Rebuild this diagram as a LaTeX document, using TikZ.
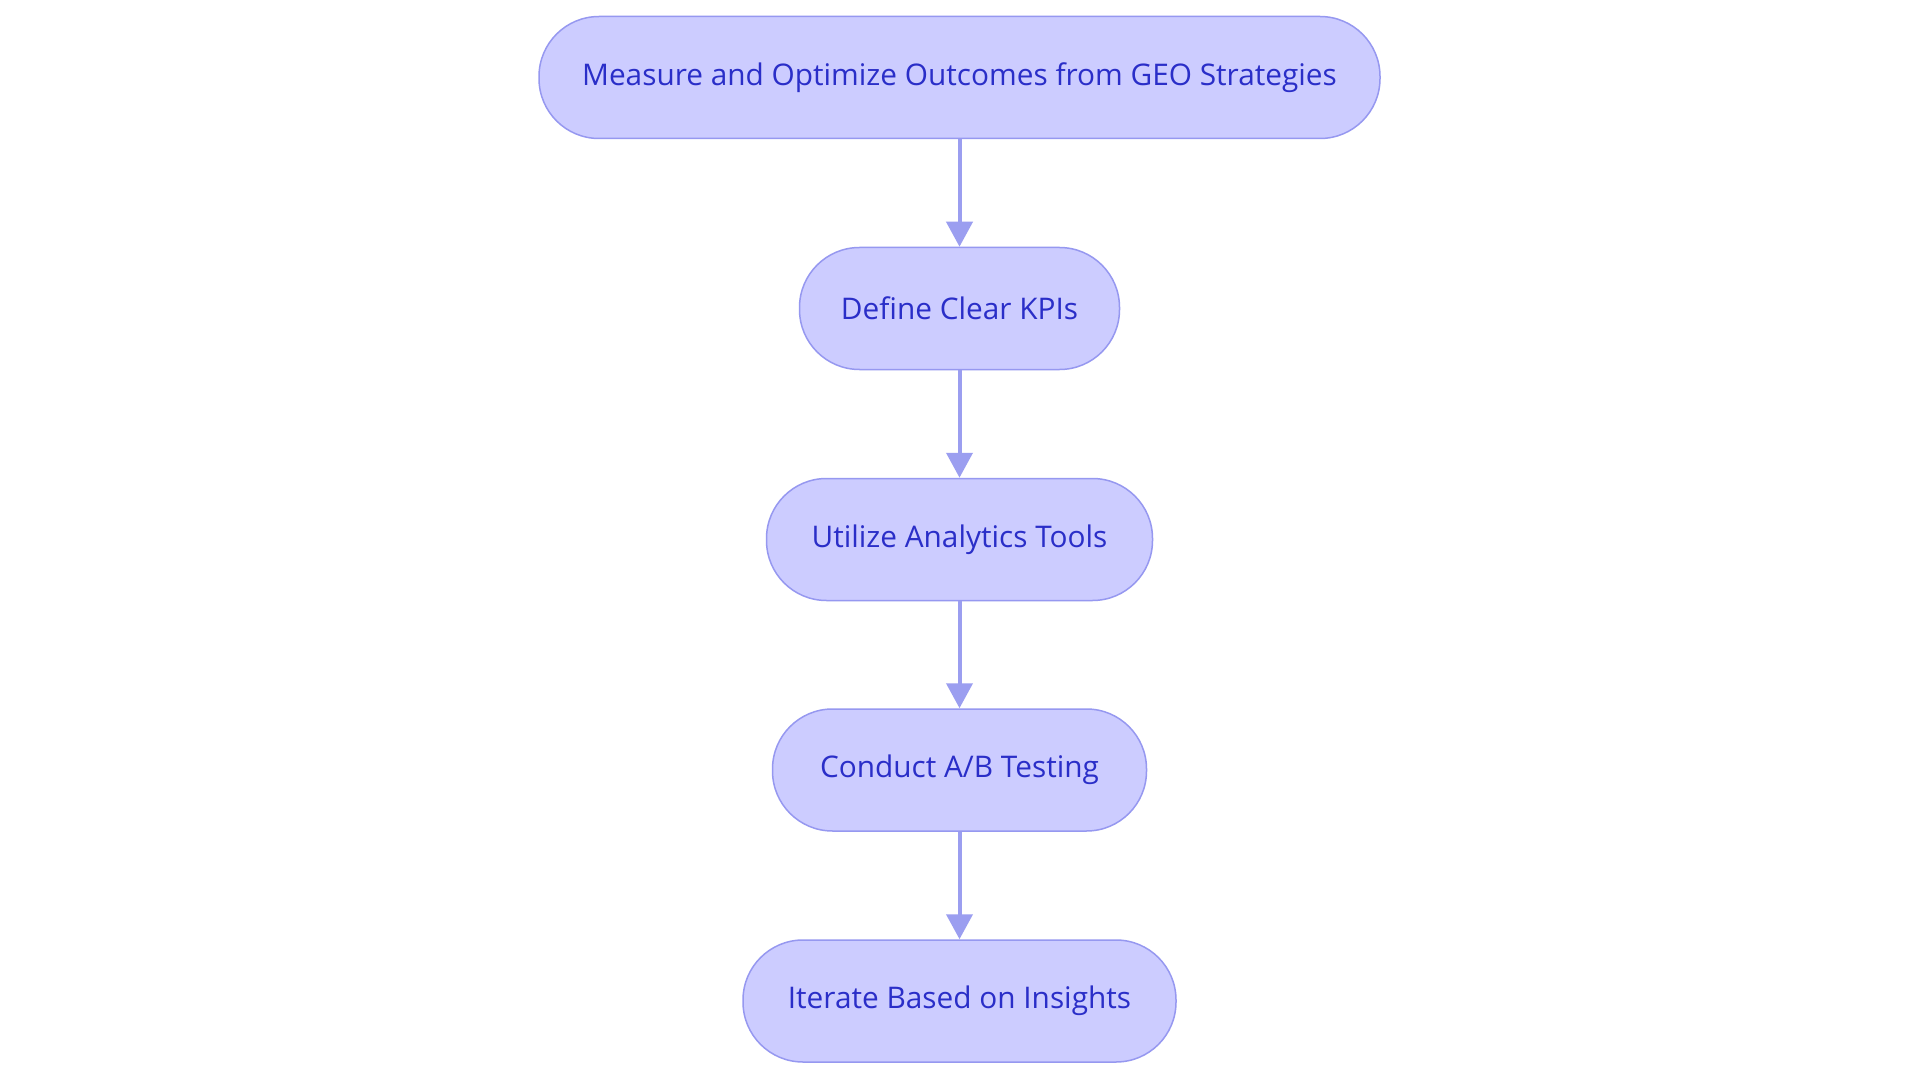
\documentclass[tikz,border=0pt]{standalone}
\usepackage{fontspec}
\setmainfont{Open Sans}
\usetikzlibrary{arrows.meta}
\definecolor{nodefill}{RGB}{204,204,255}
\definecolor{nodedraw}{RGB}{150,152,240}
\definecolor{nodetext}{RGB}{42,46,200}
\definecolor{edgecol}{RGB}{155,158,240}
\begin{document}
\begin{tikzpicture}[x=1pt,y=-1pt,
  stepbox/.style={draw=nodedraw,fill=nodefill,line width=1.5pt,rounded corners=60pt,
    minimum height=122pt,inner sep=0pt,text=nodetext,font=\fontsize{29.8}{36}\selectfont},
  flow/.style={draw=edgecol,line width=4pt,-{Triangle[length=25pt,width=26pt]},shorten >=0pt}]
\useasboundingbox[fill=white] (0,0) rectangle (1920,1083);
\node[stepbox,minimum width=841pt] (n1) at (959.5,77.5) {Measure and Optimize Outcomes from GEO Strategies};
\node[stepbox,minimum width=320pt] (n2) at (959.5,308.5) {Define Clear KPIs};
\node[stepbox,minimum width=386pt] (n3) at (959.5,539.5) {Utilize Analytics Tools};
\node[stepbox,minimum width=374pt] (n4) at (959.5,770) {Conduct A/B Testing};
\node[stepbox,minimum width=433pt] (n5) at (959.5,1001) {Iterate Based on Insights};
\draw[flow] (n1) -- (n2);
\draw[flow] (n2) -- (n3);
\draw[flow] (n3) -- (n4);
\draw[flow] (n4) -- (n5);
\end{tikzpicture}
\end{document}
